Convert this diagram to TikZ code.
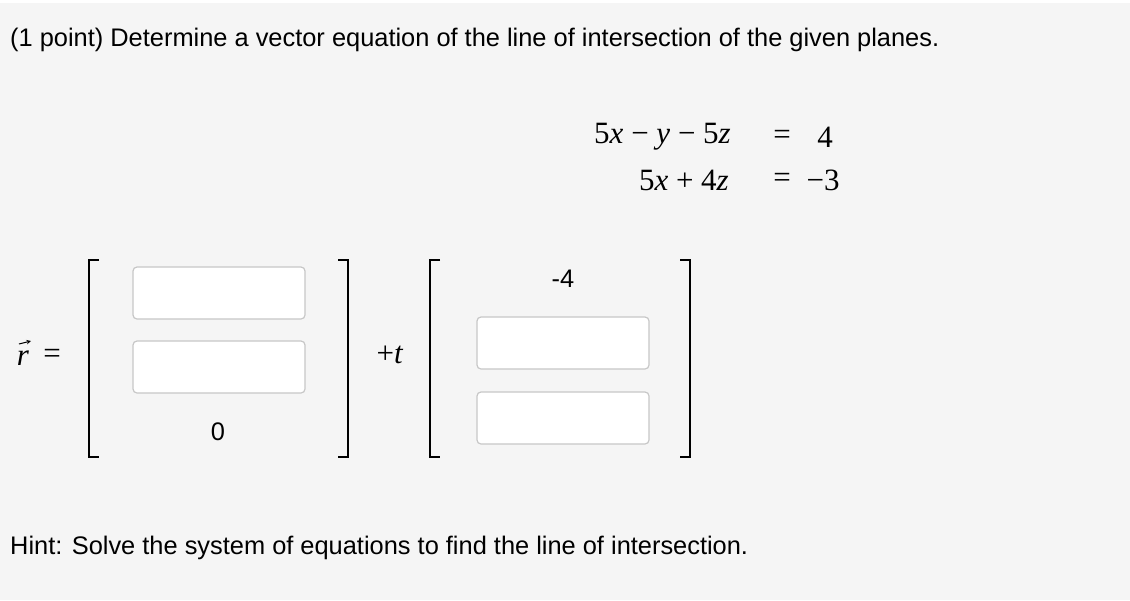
\documentclass[tikz,border=0pt]{standalone}
\usepackage{fontspec}
\setmainfont{Liberation Sans}
\newfontfamily\tms{Liberation Serif}
\begin{document}
\begin{tikzpicture}[x=1pt,y=-1pt,
  txt/.style={inner sep=0pt,font=\fontsize{25.4}{30}\selectfont},
  eq/.style={inner sep=0pt,font=\tms\fontsize{31}{36}\selectfont},
  box/.style={draw=black!22,line width=1.2pt,fill=white,rounded corners=4pt},
  brk/.style={line width=1.6pt}]
\fill[white] (0,0) rectangle (1130,600);
\fill[black!4] (0,3) rectangle (1130,600);
\node[txt,anchor=west] (title) at (10,40) {(1 point) Determine a vector equation of the line of intersection of the given planes.};
\node[eq,anchor=east] (e1) at (731,137) {5\textit{x} − \textit{y} − 5\textit{z}};
\node[eq] (q1) at (782,137) {=};
\node[eq] (r1) at (825,137) {4};
\node[eq,anchor=east] (e2) at (729,180) {5\textit{x} + 4\textit{z}};
\node[eq] (q2) at (782,180) {=};
\node[eq] (r2) at (823,180) {−3};
\node[eq] (rv) at (23,358) {\textit{r}};
\draw[-stealth,line width=1pt] (19,344) -- (31,341);
\node[eq] (req) at (52,356) {=};
\draw[brk] (99,260) -- (89,260) -- (89,457) -- (99,457);
\draw[brk] (338,260) -- (348,260) -- (348,457) -- (338,457);
\draw[box] (133,267) rectangle (305,319);
\draw[box] (133,341) rectangle (305,393);
\node[txt] (z) at (218,432) {0};
\node[eq] (pt) at (390,355) {+\textit{t}};
\draw[brk] (440,260) -- (430,260) -- (430,457) -- (440,457);
\draw[brk] (680,260) -- (690,260) -- (690,457) -- (680,457);
\node[txt] (m4) at (563,279) {-4};
\draw[box] (477,317) rectangle (649,369);
\draw[box] (477,392) rectangle (649,444);
\node[txt,anchor=west] (hint) at (10,548) {Hint: Solve the system of equations to find the line of intersection.};
\end{tikzpicture}
\end{document}
